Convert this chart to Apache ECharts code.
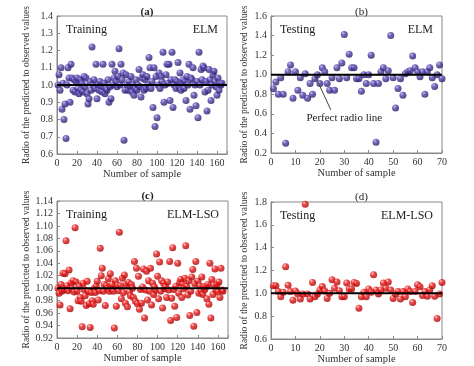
<!DOCTYPE html>
<html><head><meta charset="utf-8">
<script src="https://cdn.jsdelivr.net/npm/echarts@6/dist/echarts.min.js"></script>
<style>html,body{margin:0;padding:0;background:#fff}#c{width:474px;height:366px}</style>
</head><body><div id="c"></div>
<script>
// ---- data ----
const elmTrain = [
1.00,1.06,0.97,1.10,0.86,1.01,0.80,0.89,0.69,1.00,
1.10,1.04,0.90,1.12,1.04,0.97,1.03,0.96,1.02,1.04,
0.98,0.95,1.03,0.97,1.01,0.96,1.05,0.99,1.04,0.95,
0.89,0.92,1.02,0.97,1.22,1.00,1.03,0.98,1.12,0.92,
1.00,0.97,1.02,0.99,0.96,1.12,1.01,0.95,0.98,0.97,
1.03,0.90,0.99,0.92,1.12,1.00,1.04,1.08,1.02,0.99,
1.05,1.21,1.00,1.12,1.03,1.07,0.68,0.97,1.06,1.00,
0.97,1.02,0.99,1.05,0.96,1.00,0.94,0.98,1.03,0.97,
1.00,1.09,0.99,0.93,1.04,1.06,0.97,1.03,0.98,1.05,
1.00,1.16,1.10,0.98,1.02,0.87,1.10,0.76,1.05,0.81,
1.00,1.07,0.98,1.05,1.02,1.19,0.90,1.00,1.06,1.12,
1.01,1.12,0.91,1.03,1.19,0.87,1.00,1.03,0.98,1.02,
1.13,0.99,1.07,0.97,1.01,1.03,0.98,1.02,0.91,1.05,
1.00,1.12,0.86,1.04,1.03,1.10,0.94,1.00,0.88,1.02,
0.81,1.19,1.00,1.09,1.03,1.11,1.10,0.96,1.02,0.85,
0.97,1.09,1.03,0.91,1.00,1.06,1.08,1.02,0.99,0.94,
1.04,0.97,1.01,1.00,1.01];
const elmTest = [
0.857,0.925,0.80,0.97,0.80,0.30,1.03,1.10,0.76,1.03,
0.84,0.97,0.79,1.01,0.76,0.91,0.80,0.96,1.00,0.91,
1.07,1.03,0.91,0.84,0.97,0.84,1.07,0.96,1.12,1.41,
0.97,1.21,1.07,1.07,0.96,0.96,0.83,1.00,0.91,1.00,
1.20,0.91,0.31,0.91,1.03,1.07,0.96,1.04,1.40,0.97,
0.66,0.86,0.96,0.79,1.01,1.03,1.04,1.19,1.07,1.03,
0.98,1.03,0.80,1.03,1.07,0.97,0.88,1.00,1.10,0.96];
const lsoTrain = [
1.000,0.992,0.973,1.006,0.995,1.024,0.998,1.023,1.076,1.004,
0.996,1.029,0.967,1.008,0.999,1.012,0.994,1.097,1.010,0.995,
0.980,1.003,0.985,0.979,0.938,1.008,0.998,0.988,0.972,1.011,
0.995,0.975,0.937,0.993,0.980,0.974,1.000,0.993,1.003,1.011,
0.981,0.996,1.064,1.020,1.032,0.995,1.006,0.972,1.004,0.999,
1.015,0.995,1.023,0.999,1.006,0.995,0.936,1.012,0.971,1.005,
0.996,1.090,1.004,0.983,1.016,0.993,1.021,0.976,1.006,0.970,
1.009,0.994,0.988,1.006,1.000,0.985,1.043,0.979,1.032,0.975,
1.019,0.966,0.998,0.976,1.002,1.031,0.952,0.997,1.027,0.981,
1.012,0.995,1.032,0.973,1.008,0.990,1.002,0.997,1.055,1.019,
0.983,1.042,0.995,1.012,0.968,1.008,0.999,1.002,0.985,1.010,
0.997,1.043,0.948,0.984,1.065,0.998,0.971,1.003,0.953,1.040,
0.992,1.009,1.014,0.985,1.006,0.999,1.016,1.068,1.003,0.989,
1.012,0.956,0.995,1.018,1.030,0.939,1.007,1.043,0.961,1.011,
0.992,1.004,0.996,1.018,0.990,1.002,0.998,1.003,0.983,1.006,
0.974,1.040,0.952,1.014,0.990,1.005,1.031,0.998,1.006,0.994,
1.010,0.985,1.032,0.997,0.995];
const lsoTest = [
1.067,1.067,1.015,0.97,1.01,1.233,1.07,1.015,0.94,1.02,
0.995,0.95,0.995,1.78,0.995,0.95,1.095,0.97,0.995,1.03,
1.06,1.02,0.955,1.0,1.12,1.044,1.10,1.023,0.97,0.97,
1.09,1.038,1.038,1.095,1.087,0.87,0.97,1.01,0.97,1.038,
1.01,1.163,1.03,0.995,1.03,1.09,1.044,1.10,1.03,0.955,
0.995,1.015,0.95,1.015,0.97,1.038,1.015,0.92,1.015,1.075,
1.058,0.98,1.015,0.974,1.03,1.067,0.974,0.78,0.995,1.095];
const panelTitles = ['(a)','(b)','(c)','(d)'];
const leftTexts = ['Training','Testing','Training','Testing'];
const rightTexts = ['ELM','ELM','ELM-LSO','ELM-LSO'];
const yName = 'Radio of the predicted to observed values';
const xName = 'Number of sample';
const annotation = 'Perfect radio line';

// ---- chart ----
const font = 'Liberation Serif';
const grids = [
  {left:57, top:16, width:170, height:138},
  {left:271, top:16, width:171, height:137},
  {left:57, top:201, width:171, height:137},
  {left:271, top:202, width:171, height:137}
];
const yCfg = [
  {min:0.6,max:1.4,interval:0.1,dec:1},
  {min:0.2,max:1.6,interval:0.2,dec:1},
  {min:0.92,max:1.14,interval:0.02,dec:2},
  {min:0.6,max:1.8,interval:0.2,dec:1}
];
const xCfg = [
  {min:0,max:170,interval:20},
  {min:0,max:70,interval:10},
  {min:0,max:170,interval:20},
  {min:0,max:70,interval:10}
];
const datasets = [elmTrain, elmTest, lsoTrain, lsoTest];
const purple = {type:'radial',x:0.35,y:0.3,r:0.75,colorStops:[{offset:0,color:'#b8aeea'},{offset:0.35,color:'#5443ad'},{offset:1,color:'#23175e'}]};
const red = {type:'radial',x:0.35,y:0.3,r:0.75,colorStops:[{offset:0,color:'#ffc8c8'},{offset:0.35,color:'#ec1c1c'},{offset:1,color:'#a00000'}]};
const axisTxt = {fontFamily:font, fontSize:10, color:'#333'};

const xAxis = [], yAxis = [], series = [], title = [];
grids.forEach((g,i)=>{
  const tickLabel = {show:true, ...axisTxt, margin:4};
  xAxis.push({gridIndex:i,type:'value',min:xCfg[i].min,max:xCfg[i].max,interval:xCfg[i].interval,
    name:xName,nameLocation:'middle',nameGap:14,nameTextStyle:{fontFamily:font,fontSize:10.5,color:'#333'},
    axisLine:{show:true,onZero:false,lineStyle:{color:'#888'}},axisTick:{inside:true,length:3,lineStyle:{color:'#888'}},
    axisLabel:{...tickLabel, formatter:v=> v>=xCfg[i].max && xCfg[i].max===170 ? '' : String(v)},splitLine:{show:false}});
  yAxis.push({gridIndex:i,type:'value',min:yCfg[i].min,max:yCfg[i].max,interval:yCfg[i].interval,
    name:yName,nameLocation:'middle',nameGap: i%2===0 ? 26 : 22,nameTextStyle:{fontFamily:font,fontSize:9.5,color:'#333'},
    axisLine:{show:true,lineStyle:{color:'#888'}},axisTick:{inside:true,length:3,lineStyle:{color:'#888'}},
    axisLabel:{...tickLabel, formatter:v=>v.toFixed(yCfg[i].dec)},splitLine:{show:false}});
  const d = datasets[i].map((v,k)=>[k+1,v]);
  series.push({type:'scatter',xAxisIndex:i,yAxisIndex:i,data:d,symbolSize:7,
    itemStyle:{color: i<2 ? purple : red}, z:2});
  series.push({type:'line',xAxisIndex:i,yAxisIndex:i,data:[[xCfg[i].min,1],[xCfg[i].max,1]],symbol:'none',
    lineStyle:{color:'#000',width:2},z:3, silent:true,
    markLine: i===1 ? {symbol:'none',silent:true,lineStyle:{color:'#444',width:1,type:'solid'},label:{show:false},
      data:[[{coord:[18.3,0.975]},{coord:[24.5,0.64]}]]} : undefined});
  title.push({text:panelTitles[i],left:g.left+g.width/2,top:g.top - (i<2?14:15),textAlign:'center',
    textStyle:{fontFamily:font,fontSize:11,fontWeight: i===0||i===2 ? 'bold':'normal',color:'#222'}});
  title.push({text:leftTexts[i],left:g.left+4,top:g.top+3,textStyle:{fontFamily:font,fontSize:12,fontWeight:'normal',color:'#222'}});
  title.push({text:rightTexts[i],right:474-(g.left+g.width)+4,top:g.top+3,textStyle:{fontFamily:font,fontSize:12,fontWeight:'normal',color:'#222'}});
});

const chart = echarts.init(document.getElementById('c'),null,{renderer:'canvas'});
chart.setOption({
  animation:false,
  grid: grids.map(g=>({...g, show:true, borderColor:'#888', borderWidth:1, backgroundColor:'transparent'})),
  xAxis, yAxis, series, title
});
const p = chart.convertToPixel({gridIndex:1},[30,0.56]);
chart.setOption({graphic:[{type:'text',x:p[0],y:p[1],style:{text:annotation,font:'11px "Liberation Serif"',fill:'#222',textAlign:'center',textVerticalAlign:'middle'}}]});
</script></body></html>
